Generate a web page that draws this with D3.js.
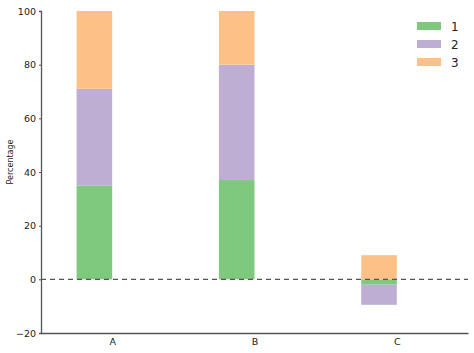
<!DOCTYPE html>
<html>
<head>
<meta charset="utf-8">
<script src="https://cdn.jsdelivr.net/npm/d3@7"></script>
<style>
body { margin: 0; background: #fff; }
text { font-family: "DejaVu Sans", sans-serif; fill: #222; }
</style>
</head>
<body>
<svg width="474" height="353"></svg>
<script>
// stacked percentage bars

var categories = ['A', 'B', 'C'];
var seriesNames = ['1', '2', '3'];
var series1 = [35, 37, -2];
var series2 = [36, 43, -7.5];
var series3 = [29, 20, 9];
var yTicks = [-20, 0, 20, 40, 60, 80, 100];
var colors = ['#7fc97f', '#beaed4', '#fdc086'];

var rows = categories.map(function(c, i) {
    return { cat: c, '1': series1[i], '2': series2[i], '3': series3[i] };
});

var svg = d3.select('svg');

var plotLeft = 41, plotRight = 468, plotTop = 11, plotBottom = 333;

var x = d3.scaleLinear()
    .domain([-0.5, categories.length - 0.5])
    .range([plotLeft, plotRight]);

var y = d3.scaleLinear()
    .domain([-20, 100])
    .range([plotBottom, plotTop]);

var stack = d3.stack()
    .keys(seriesNames)
    .offset(d3.stackOffsetDiverging);

var stacked = stack(rows);
var barW = 0.25;

svg.selectAll('g.layer')
    .data(stacked)
    .join('g')
    .attr('class', 'layer')
    .attr('fill', function(d, i) { return colors[i]; })
    .selectAll('rect')
    .data(function(d) { return d; })
    .join('rect')
    .attr('x', function(d, i) { return x(i - barW); })
    .attr('width', function(d, i) { return x(i) - x(i - barW); })
    .attr('y', function(d) { return y(Math.max(d[0], d[1])); })
    .attr('height', function(d) { return Math.abs(y(d[0]) - y(d[1])); });

// zero line
svg.append('line')
    .attr('x1', plotLeft).attr('x2', plotRight)
    .attr('y1', y(0)).attr('y2', y(0))
    .attr('stroke', '#555')
    .attr('stroke-width', 1.3)
    .attr('stroke-dasharray', '5,4');

// y axis
var yAxis = d3.axisLeft(y).tickValues(yTicks).tickSize(2).tickPadding(3);
var gy = svg.append('g')
    .attr('transform', 'translate(' + plotLeft + ',0)')
    .call(yAxis);
gy.select('.domain').attr('stroke', '#555').attr('stroke-width', 1.3);
gy.selectAll('.tick line').attr('stroke', '#555');
gy.selectAll('text').style('font-size', '9.5px').attr('fill', '#222');

// x axis
var xAxis = d3.axisBottom(x)
    .tickValues(d3.range(categories.length))
    .tickFormat(function(d) { return categories[d]; })
    .tickSize(0).tickPadding(5);
var gx = svg.append('g')
    .attr('transform', 'translate(0,' + plotBottom + ')')
    .call(xAxis);
gx.select('.domain').attr('stroke', '#555').attr('stroke-width', 1.3);
gx.selectAll('text').style('font-size', '9.5px').attr('fill', '#222');

// y label
svg.append('text')
    .attr('transform', 'translate(13,162) rotate(-90)')
    .attr('text-anchor', 'middle')
    .style('font-size', '8px')
    .text('Percentage');

// legend
var legend = svg.append('g');
var items = legend.selectAll('g')
    .data(seriesNames)
    .join('g')
    .attr('transform', function(d, i) { return 'translate(417,' + (26 + i * 18) + ')'; });
items.append('rect')
    .attr('x', 0).attr('y', -4)
    .attr('width', 24).attr('height', 8)
    .attr('fill', function(d, i) { return colors[i]; });
items.append('text')
    .attr('x', 34).attr('y', 4.5)
    .style('font-size', '12px')
    .text(function(d) { return d; });
</script>
</body>
</html>
